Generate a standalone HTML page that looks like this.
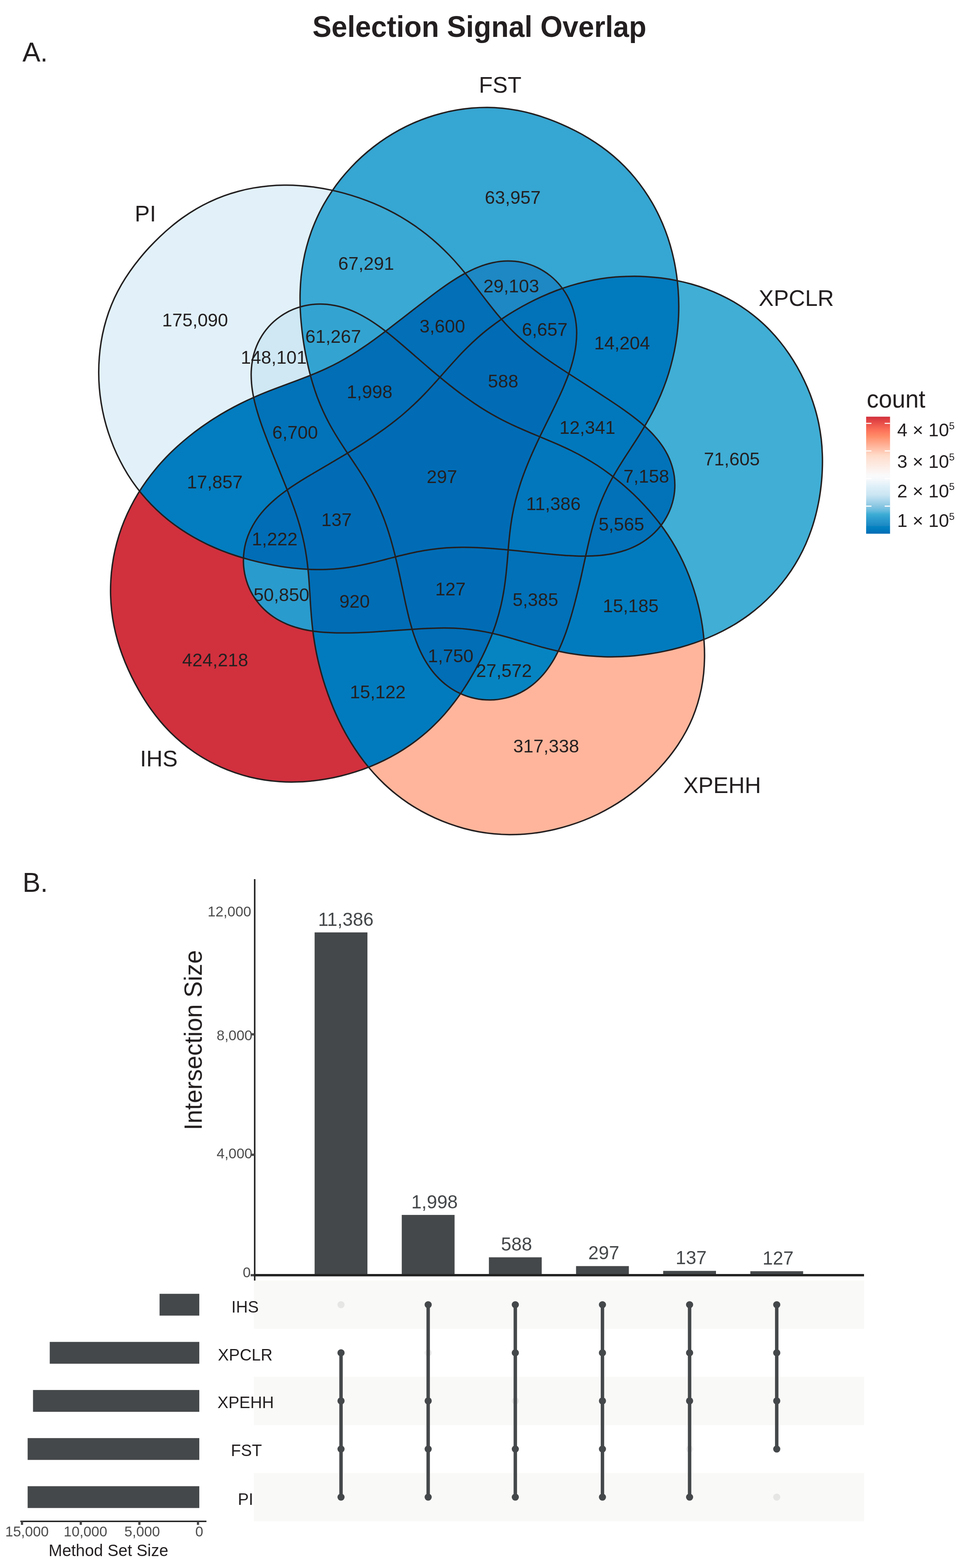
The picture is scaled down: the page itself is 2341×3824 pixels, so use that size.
<!DOCTYPE html>
<html lang="en"><head><meta charset="utf-8"><title>Selection Signal Overlap</title>
<style>html,body{margin:0;padding:0;background:#fff}body{width:2341px;height:3824px;overflow:hidden}svg{display:block;font-family:'Liberation Sans', sans-serif}text{white-space:pre}</style></head><body>
<svg width="2341" height="3824" viewBox="0 0 2341 3824" role="img" aria-label="Selection Signal Overlap: Venn diagram and UpSet plot">
<rect width="2341" height="3824" fill="#fff"/>
<text transform="translate(1169.10,89.60) scale(1,1.04)" font-size="69.45" fill="#231f20" text-anchor="middle" font-weight="bold">Selection Signal Overlap</text>
<text transform="translate(54.70,149.60) scale(1,1.03)" font-size="65.5" fill="#231f20">A.</text>
<text transform="translate(54.90,2174.90) scale(1,1.03)" font-size="65.5" fill="#231f20">B.</text>
<g id="venn">
<path d="M241.6,870.9 L240.5,889.5 L240.1,908.3 L240.5,927.0 L241.6,945.7 L243.5,964.3 L246.1,982.8 L249.4,1001.2 L253.5,1019.5 L258.3,1037.6 L263.8,1055.5 L269.9,1073.2 L276.8,1090.6 L284.3,1107.7 L292.5,1124.5 L301.4,1141.0 L310.9,1157.1 L321.1,1172.8 L332.0,1188.0 L340.4,1198.9 L347.6,1187.7 L358.2,1172.4 L369.4,1157.5 L381.1,1143.0 L393.3,1128.9 L406.0,1115.2 L419.2,1102.0 L432.8,1089.2 L446.8,1076.9 L461.1,1065.0 L475.8,1053.5 L490.9,1042.5 L506.2,1031.9 L521.8,1021.6 L537.6,1011.8 L553.8,1002.4 L570.1,993.4 L586.7,984.9 L603.5,976.8 L619.2,969.6 L616.4,954.3 L614.0,935.8 L613.1,917.2 L613.7,898.6 L616.0,880.1 L620.1,862.0 L626.1,844.4 L634.1,827.6 L644.0,811.8 L655.5,797.2 L668.7,784.1 L683.3,772.6 L699.1,762.7 L715.9,754.8 L732.6,748.9 L732.3,730.5 L732.5,711.8 L733.4,693.2 L734.9,674.7 L737.2,656.2 L740.2,637.8 L743.9,619.5 L748.3,601.5 L753.5,583.6 L759.4,565.9 L766.1,548.5 L773.5,531.4 L781.6,514.6 L790.4,498.2 L799.8,482.2 L811.7,464.0 L804.2,462.3 L785.8,458.8 L767.3,455.9 L748.7,453.7 L730.1,452.1 L711.4,451.2 L692.7,451.0 L674.0,451.5 L655.3,452.9 L636.7,454.9 L618.2,457.8 L599.9,461.4 L581.7,465.9 L563.7,471.1 L546.0,477.1 L528.5,483.9 L511.4,491.5 L494.7,499.9 L478.3,509.0 L462.4,518.8 L446.9,529.3 L431.8,540.4 L417.2,552.1 L403.0,564.3 L389.2,577.0 L375.9,590.1 L363.0,603.6 L350.5,617.6 L338.5,631.9 L327.0,646.7 L316.0,661.8 L305.6,677.4 L295.9,693.4 L286.9,709.8 L278.6,726.6 L271.1,743.7 L264.5,761.2 L258.6,779.0 L253.6,797.1 L249.4,815.3 L246.0,833.7 L243.4,852.2Z" fill="#e2f1f9"/>
<path d="M1077.3,275.6 L1059.3,280.6 L1041.5,286.4 L1024.0,292.9 L1006.8,300.1 L989.9,308.0 L973.3,316.6 L957.1,325.9 L941.3,335.8 L925.9,346.3 L910.9,357.5 L896.3,369.2 L882.3,381.5 L868.7,394.3 L855.7,407.7 L843.1,421.5 L831.1,435.8 L819.7,450.6 L809.7,464.8 L822.2,467.6 L840.2,472.2 L858.2,477.4 L875.9,483.2 L893.5,489.5 L910.9,496.4 L928.0,503.9 L944.8,511.9 L961.4,520.6 L977.6,529.7 L993.6,539.5 L1009.2,549.8 L1024.4,560.6 L1039.2,571.9 L1053.7,583.7 L1067.7,596.1 L1081.3,608.8 L1094.5,622.0 L1107.3,635.7 L1119.7,649.7 L1134.3,667.2 L1148.6,659.9 L1165.7,652.3 L1183.2,646.1 L1201.2,641.4 L1219.6,638.3 L1238.1,637.2 L1256.7,638.0 L1275.1,641.0 L1293.0,646.0 L1310.1,653.1 L1326.4,662.2 L1341.5,673.0 L1355.3,685.4 L1367.7,699.3 L1371.0,704.1 L1391.2,697.5 L1409.1,692.3 L1427.2,687.8 L1445.5,683.9 L1463.9,680.7 L1482.3,678.1 L1500.9,676.2 L1519.5,675.0 L1538.2,674.5 L1556.8,674.6 L1575.5,675.3 L1594.1,676.7 L1612.7,678.7 L1631.1,681.3 L1652.2,685.3 L1650.4,670.2 L1647.5,651.8 L1643.9,633.5 L1639.7,615.3 L1634.8,597.2 L1629.2,579.4 L1622.9,561.8 L1615.9,544.5 L1608.3,527.5 L1599.9,510.8 L1590.9,494.4 L1581.2,478.4 L1570.9,462.9 L1560.0,447.8 L1548.4,433.1 L1536.1,419.0 L1523.3,405.4 L1509.9,392.4 L1496.0,380.0 L1481.5,368.2 L1466.6,357.0 L1451.2,346.4 L1435.4,336.4 L1419.3,327.0 L1402.8,318.2 L1386.1,310.0 L1369.1,302.2 L1351.8,295.1 L1334.3,288.5 L1316.7,282.5 L1298.7,277.2 L1280.7,272.6 L1262.4,268.7 L1244.0,265.6 L1225.4,263.4 L1206.8,262.0 L1188.1,261.4 L1169.5,261.8 L1150.8,262.9 L1132.2,264.9 L1113.8,267.7 L1095.5,271.3Z" fill="#36a6d2"/>
<path d="M1135.4,666.7 L1120.6,648.9 L1108.2,634.9 L1095.4,621.2 L1082.1,608.0 L1068.5,595.2 L1054.4,582.8 L1040.0,571.0 L1025.1,559.6 L1009.8,548.8 L994.2,538.5 L978.3,528.7 L962.0,519.5 L945.4,510.9 L928.5,502.8 L911.3,495.3 L893.9,488.4 L876.3,482.1 L858.5,476.3 L840.6,471.1 L822.4,466.4 L810.5,463.7 L798.8,481.5 L789.3,497.6 L780.5,514.1 L772.4,530.9 L765.0,548.1 L758.3,565.5 L752.4,583.2 L747.2,601.1 L742.7,619.3 L739.0,637.6 L736.0,656.0 L733.7,674.5 L732.2,693.2 L731.3,711.8 L731.1,730.5 L731.4,749.4 L733.4,748.7 L751.6,744.5 L770.1,742.4 L788.7,742.3 L807.2,744.0 L825.4,747.6 L843.3,752.8 L860.7,759.5 L877.5,767.4 L893.8,776.5 L909.6,786.4 L925.0,797.0 L940.2,808.5 L966.0,788.7 L1039.8,731.6 L1069.7,709.2 L1084.9,698.3 L1100.3,687.8 L1116.0,677.8 L1132.1,668.4Z" fill="#3aa9d4"/>
<path d="M1944.3,894.4 L1934.7,878.3 L1924.5,862.6 L1913.7,847.4 L1902.2,832.6 L1890.1,818.3 L1877.4,804.6 L1864.1,791.4 L1850.2,778.9 L1835.7,767.0 L1820.7,755.9 L1805.3,745.4 L1789.3,735.6 L1772.9,726.6 L1756.2,718.2 L1739.1,710.7 L1721.7,703.8 L1704.0,697.6 L1686.1,692.2 L1668.0,687.5 L1650.8,683.7 L1651.5,688.9 L1653.1,707.4 L1654.2,726.0 L1654.6,744.7 L1654.4,763.3 L1653.6,781.9 L1652.1,800.5 L1650.0,819.0 L1647.3,837.4 L1643.9,855.7 L1639.9,873.9 L1635.3,892.0 L1630.0,909.9 L1624.2,927.6 L1617.8,945.0 L1610.8,962.3 L1603.3,979.3 L1595.2,996.1 L1586.6,1012.7 L1577.5,1029.0 L1571.3,1039.6 L1582.3,1049.7 L1595.2,1063.2 L1607.1,1077.5 L1617.8,1092.8 L1627.0,1109.0 L1634.5,1126.0 L1640.2,1143.7 L1643.7,1162.0 L1645.1,1180.6 L1644.3,1199.2 L1641.3,1217.5 L1636.1,1235.4 L1629.0,1252.6 L1619.9,1268.8 L1611.2,1281.0 L1617.7,1289.7 L1628.2,1305.1 L1638.3,1320.8 L1647.7,1336.9 L1656.5,1353.4 L1664.8,1370.1 L1672.4,1387.1 L1679.5,1404.4 L1686.0,1421.9 L1691.9,1439.6 L1697.2,1457.4 L1701.9,1475.5 L1706.1,1493.7 L1709.7,1512.0 L1712.6,1530.4 L1714.9,1548.9 L1715.8,1560.3 L1729.0,1555.0 L1746.1,1547.4 L1762.9,1539.2 L1779.3,1530.4 L1795.5,1520.9 L1811.2,1510.7 L1826.5,1500.0 L1841.3,1488.5 L1855.6,1476.5 L1869.3,1463.8 L1882.5,1450.5 L1895.2,1436.7 L1907.2,1422.4 L1918.6,1407.6 L1929.4,1392.3 L1939.5,1376.5 L1948.9,1360.4 L1957.5,1343.8 L1965.5,1326.8 L1972.6,1309.6 L1979.1,1292.0 L1984.8,1274.2 L1989.8,1256.2 L1994.1,1238.0 L1997.7,1219.6 L2000.7,1201.2 L2003.1,1182.6 L2004.8,1164.0 L2005.8,1145.3 L2006.2,1126.6 L2005.9,1107.9 L2004.9,1089.2 L2003.2,1070.6 L2000.6,1052.1 L1997.3,1033.7 L1993.2,1015.4 L1988.3,997.3 L1982.7,979.5 L1976.3,961.9 L1969.3,944.6 L1961.6,927.5 L1953.3,910.8Z" fill="#40aed5"/>
<path d="M1630.0,1253.1 L1637.3,1235.8 L1642.4,1217.8 L1645.5,1199.3 L1646.3,1180.6 L1644.9,1161.9 L1641.3,1143.4 L1635.7,1125.6 L1628.1,1108.4 L1618.8,1092.1 L1608.1,1076.8 L1596.1,1062.4 L1583.1,1048.9 L1571.9,1038.5 L1558.3,1060.9 L1517.9,1123.6 L1508.0,1139.4 L1498.4,1155.4 L1494.3,1162.8 L1502.0,1168.7 L1516.4,1180.6 L1530.5,1192.9 L1544.1,1205.6 L1557.5,1218.6 L1570.4,1232.1 L1582.9,1245.9 L1595.0,1260.1 L1606.6,1274.7 L1611.9,1282.0 L1620.9,1269.5Z" fill="#0273b9"/>
<path d="M1596.2,996.7 L1604.3,979.9 L1611.9,962.8 L1618.9,945.5 L1625.3,927.9 L1631.2,910.2 L1636.4,892.3 L1641.1,874.2 L1645.1,856.0 L1648.5,837.6 L1651.2,819.1 L1653.3,800.6 L1654.8,782.0 L1655.6,763.3 L1655.8,744.7 L1655.4,726.0 L1654.3,707.3 L1652.7,688.7 L1652.1,684.0 L1631.3,680.2 L1612.8,677.5 L1594.2,675.5 L1575.6,674.1 L1556.9,673.4 L1538.2,673.3 L1519.5,673.8 L1500.8,675.1 L1482.2,676.9 L1463.7,679.5 L1445.2,682.7 L1427.0,686.6 L1408.8,691.1 L1390.8,696.3 L1370.3,703.1 L1378.4,714.5 L1387.4,730.8 L1394.7,747.9 L1400.1,765.7 L1403.6,784.0 L1405.4,802.5 L1405.5,821.1 L1404.0,839.7 L1401.2,858.1 L1397.2,876.3 L1392.1,894.2 L1386.3,911.6 L1462.5,960.8 L1493.7,981.4 L1509.1,991.9 L1524.4,1002.6 L1539.5,1013.6 L1554.3,1025.0 L1568.6,1037.0 L1572.2,1040.4 L1578.6,1029.5 L1587.6,1013.2Z" fill="#027abe"/>
<path d="M1509.0,1140.0 L1518.9,1124.2 L1559.3,1061.5 L1572.8,1039.3 L1569.4,1036.1 L1555.0,1024.1 L1540.2,1012.6 L1525.1,1001.6 L1509.8,990.9 L1494.3,980.4 L1463.1,959.8 L1386.7,910.5 L1379.6,929.3 L1372.4,946.5 L1364.8,963.6 L1348.8,997.3 L1315.6,1065.5 L1340.9,1076.0 L1358.0,1083.4 L1375.0,1091.1 L1391.9,1099.1 L1408.5,1107.5 L1424.9,1116.5 L1441.0,1125.9 L1456.8,1135.9 L1472.2,1146.3 L1487.3,1157.3 L1495.3,1163.5 L1499.4,1156.0Z" fill="#0278bc"/>
<path d="M1607.4,1874.8 L1619.9,1860.9 L1631.9,1846.5 L1643.2,1831.7 L1653.9,1816.4 L1664.0,1800.6 L1673.2,1784.3 L1681.7,1767.6 L1689.3,1750.6 L1696.0,1733.1 L1701.9,1715.4 L1706.9,1697.3 L1710.9,1679.1 L1714.1,1660.6 L1716.5,1642.1 L1718.0,1623.5 L1718.6,1604.8 L1718.5,1586.1 L1717.7,1567.4 L1716.9,1558.6 L1711.2,1560.9 L1693.7,1567.3 L1675.9,1573.2 L1658.0,1578.4 L1640.0,1583.1 L1621.8,1587.3 L1603.5,1591.0 L1585.1,1594.0 L1566.6,1596.6 L1548.0,1598.6 L1529.4,1600.1 L1510.8,1601.0 L1492.1,1601.3 L1473.5,1601.1 L1454.8,1600.3 L1436.2,1599.0 L1417.6,1597.0 L1399.1,1594.5 L1380.7,1591.3 L1360.8,1587.3 L1355.8,1597.4 L1346.6,1613.6 L1336.4,1629.1 L1324.9,1643.8 L1312.3,1657.3 L1298.3,1669.6 L1283.2,1680.4 L1267.0,1689.5 L1249.9,1696.8 L1232.1,1702.0 L1213.8,1705.3 L1195.3,1706.5 L1176.7,1705.6 L1158.3,1702.7 L1140.4,1697.9 L1122.8,1690.9 L1117.8,1698.1 L1106.8,1713.1 L1095.2,1727.7 L1083.1,1741.9 L1070.5,1755.7 L1057.4,1768.9 L1043.8,1781.6 L1029.6,1793.8 L1015.0,1805.3 L999.9,1816.3 L984.4,1826.7 L968.6,1836.4 L952.3,1845.6 L935.7,1854.1 L918.8,1862.0 L901.6,1869.2 L897.8,1870.7 L910.7,1885.8 L923.5,1899.4 L936.8,1912.5 L950.7,1925.1 L965.0,1937.1 L979.9,1948.4 L995.2,1959.2 L1011.0,1969.2 L1027.1,1978.6 L1043.7,1987.4 L1060.5,1995.4 L1077.7,2002.8 L1095.2,2009.5 L1112.9,2015.5 L1130.8,2020.7 L1149.0,2025.3 L1167.3,2029.1 L1185.7,2032.0 L1204.3,2034.2 L1223.0,2035.6 L1241.7,2036.1 L1260.4,2035.9 L1279.0,2034.8 L1297.6,2033.0 L1316.2,2030.5 L1334.6,2027.2 L1352.8,2023.3 L1371.0,2018.7 L1388.9,2013.5 L1406.7,2007.6 L1424.2,2001.1 L1441.4,1993.9 L1458.4,1986.0 L1475.1,1977.5 L1491.4,1968.3 L1507.3,1958.6 L1522.8,1948.2 L1538.0,1937.2 L1552.7,1925.7 L1567.1,1913.7 L1581.0,1901.2 L1594.4,1888.3Z" fill="#ffb59b"/>
<path d="M757.6,915.8 L752.8,896.6 L748.8,878.4 L745.2,860.1 L742.0,841.8 L739.2,823.3 L736.9,804.8 L735.0,786.3 L733.5,767.7 L732.6,747.7 L715.4,753.6 L698.5,761.7 L682.6,771.6 L667.9,783.2 L654.6,796.4 L643.0,811.1 L633.1,827.0 L625.0,843.9 L618.9,861.6 L614.8,879.9 L612.5,898.5 L611.9,917.2 L612.9,935.9 L615.2,954.4 L618.1,970.1 L637.6,961.7 L654.9,954.7 L672.3,947.9 L742.3,921.8Z" fill="#cfe8f4"/>
<path d="M1140.1,1699.0 L1158.1,1703.9 L1176.6,1706.8 L1195.3,1707.7 L1213.9,1706.5 L1232.3,1703.2 L1250.3,1697.9 L1267.5,1690.6 L1283.8,1681.5 L1299.1,1670.6 L1313.1,1658.2 L1325.9,1644.5 L1337.4,1629.8 L1347.7,1614.2 L1356.9,1597.9 L1362.0,1587.5 L1344.3,1583.5 L1326.2,1578.9 L1308.2,1573.9 L1236.4,1553.0 L1218.3,1548.2 L1200.4,1543.9 L1197.8,1550.9 L1190.7,1568.1 L1183.1,1585.2 L1175.0,1602.0 L1166.5,1618.6 L1157.6,1635.0 L1148.3,1651.2 L1138.6,1667.1 L1128.5,1682.7 L1122.1,1691.9Z" fill="#0684c2"/>
<path d="M925.7,796.0 L910.3,785.4 L894.5,775.4 L878.1,766.4 L861.2,758.4 L843.7,751.7 L825.7,746.4 L807.4,742.8 L788.7,741.1 L770.0,741.2 L751.4,743.4 L733.1,747.5 L731.4,748.1 L732.4,767.8 L733.8,786.4 L735.7,805.0 L738.0,823.5 L740.8,841.9 L744.0,860.3 L747.6,878.7 L751.6,896.9 L756.5,916.2 L776.9,907.8 L794.0,900.2 L810.8,892.1 L827.4,883.5 L843.7,874.4 L859.8,864.8 L875.5,854.8 L891.0,844.3 L906.3,833.6 L921.4,822.6 L941.2,807.7Z" fill="#33a4d1"/>
<path d="M1380.5,1592.5 L1399.0,1595.7 L1417.5,1598.2 L1436.1,1600.2 L1454.7,1601.5 L1473.4,1602.3 L1492.1,1602.5 L1510.8,1602.2 L1529.5,1601.2 L1548.1,1599.8 L1566.7,1597.8 L1585.3,1595.2 L1603.7,1592.1 L1622.0,1588.5 L1640.3,1584.3 L1658.4,1579.6 L1676.3,1574.3 L1694.1,1568.5 L1711.6,1562.0 L1717.0,1559.9 L1716.1,1548.8 L1713.8,1530.2 L1710.9,1511.8 L1707.3,1493.4 L1703.1,1475.2 L1698.3,1457.1 L1693.0,1439.2 L1687.1,1421.5 L1680.6,1403.9 L1673.5,1386.6 L1665.9,1369.6 L1657.6,1352.8 L1648.7,1336.3 L1639.3,1320.2 L1629.3,1304.4 L1618.7,1289.0 L1611.9,1279.9 L1609.0,1284.0 L1596.6,1297.8 L1582.7,1310.2 L1567.5,1321.0 L1551.4,1330.3 L1534.4,1337.9 L1516.8,1344.0 L1498.7,1348.7 L1480.4,1352.0 L1461.8,1354.2 L1443.2,1355.4 L1427.6,1355.6 L1417.4,1402.4 L1409.0,1438.7 L1399.8,1474.9 L1394.9,1492.9 L1389.7,1510.8 L1384.1,1528.6 L1378.0,1546.2 L1371.4,1563.6 L1364.0,1580.7 L1360.2,1588.4Z" fill="#027bbe"/>
<path d="M1461.9,1355.4 L1480.5,1353.2 L1499.0,1349.8 L1517.1,1345.2 L1534.8,1339.0 L1551.9,1331.3 L1568.2,1322.0 L1583.4,1311.1 L1597.4,1298.6 L1610.0,1284.7 L1612.7,1280.9 L1607.5,1274.0 L1595.9,1259.4 L1583.8,1245.1 L1571.3,1231.3 L1558.3,1217.8 L1545.0,1204.7 L1531.3,1192.0 L1517.2,1179.7 L1502.8,1167.8 L1494.9,1161.7 L1489.3,1171.7 L1480.7,1188.3 L1472.7,1205.2 L1465.4,1222.3 L1458.7,1239.8 L1452.6,1257.4 L1447.2,1275.3 L1442.2,1293.3 L1437.7,1311.4 L1433.4,1329.6 L1427.3,1356.8 L1443.3,1356.6Z" fill="#0271b8"/>
<path d="M1218.0,1549.4 L1236.1,1554.2 L1307.8,1575.0 L1325.9,1580.0 L1344.0,1584.6 L1361.4,1588.6 L1365.1,1581.2 L1372.5,1564.0 L1379.1,1546.6 L1385.2,1528.9 L1390.8,1511.1 L1396.1,1493.2 L1401.0,1475.2 L1410.1,1439.0 L1418.5,1402.7 L1428.8,1355.6 L1424.5,1355.7 L1405.9,1355.4 L1387.2,1354.5 L1368.6,1353.3 L1331.4,1349.9 L1238.7,1340.3 L1234.7,1387.8 L1232.8,1406.3 L1230.4,1424.8 L1227.6,1443.3 L1224.2,1461.6 L1220.2,1479.8 L1215.6,1497.9 L1210.2,1515.7 L1204.3,1533.4 L1199.9,1545.0Z" fill="#0271b8"/>
<path d="M1238.6,1341.5 L1331.2,1351.1 L1368.5,1354.4 L1387.1,1355.7 L1405.8,1356.6 L1428.6,1356.8 L1434.6,1329.8 L1438.8,1311.7 L1443.4,1293.6 L1448.3,1275.6 L1453.8,1257.8 L1459.8,1240.2 L1466.5,1222.8 L1473.8,1205.7 L1481.8,1188.8 L1490.3,1172.3 L1495.9,1162.4 L1488.0,1156.4 L1472.9,1145.4 L1457.4,1134.9 L1441.6,1124.9 L1425.5,1115.4 L1409.1,1106.5 L1392.4,1098.0 L1375.5,1090.0 L1358.5,1082.3 L1341.3,1074.9 L1316.1,1064.4 L1300.4,1098.3 L1292.8,1115.4 L1285.6,1132.6 L1278.8,1150.0 L1272.4,1167.6 L1266.5,1185.3 L1261.1,1203.2 L1256.3,1221.2 L1252.2,1239.5 L1248.6,1257.8 L1245.6,1276.3 L1243.2,1294.8 L1241.2,1313.4Z" fill="#0277bc"/>
<path d="M538.2,1871.2 L555.4,1878.4 L573.0,1884.9 L590.8,1890.6 L608.8,1895.5 L627.0,1899.6 L645.4,1902.9 L664.0,1905.3 L682.6,1906.9 L701.3,1907.7 L720.0,1907.7 L738.7,1907.0 L757.3,1905.6 L775.9,1903.5 L794.3,1900.7 L812.7,1897.2 L831.0,1893.1 L849.0,1888.4 L866.9,1883.0 L884.6,1877.0 L899.7,1871.3 L887.8,1856.3 L876.6,1841.3 L866.1,1826.0 L856.1,1810.2 L846.5,1794.2 L837.6,1777.8 L829.1,1761.2 L821.2,1744.3 L813.7,1727.2 L806.7,1709.9 L800.2,1692.4 L794.1,1674.8 L788.5,1657.0 L783.3,1639.1 L778.6,1621.0 L774.4,1602.9 L770.7,1584.6 L767.5,1566.2 L764.7,1547.7 L763.6,1538.5 L753.4,1537.0 L735.1,1533.1 L717.2,1528.1 L699.8,1521.6 L683.0,1513.5 L667.0,1503.9 L652.2,1492.6 L638.7,1479.8 L626.7,1465.6 L616.5,1450.1 L608.0,1433.5 L601.5,1416.0 L597.1,1398.0 L594.6,1379.5 L594.3,1360.4 L574.8,1354.4 L557.1,1348.4 L539.6,1341.8 L522.4,1334.6 L505.4,1326.8 L488.7,1318.5 L472.3,1309.5 L456.3,1300.0 L440.6,1289.8 L425.4,1279.0 L410.6,1267.6 L396.3,1255.7 L382.5,1243.1 L369.2,1230.0 L356.5,1216.3 L344.4,1202.1 L340.3,1196.8 L336.5,1202.8 L327.1,1218.9 L318.2,1235.4 L310.1,1252.2 L302.6,1269.4 L295.9,1286.8 L289.9,1304.5 L284.6,1322.4 L280.1,1340.6 L276.4,1358.9 L273.4,1377.3 L271.2,1395.9 L269.7,1414.5 L269.0,1433.2 L269.1,1451.9 L270.0,1470.6 L271.6,1489.2 L274.1,1507.7 L277.4,1526.1 L281.4,1544.4 L286.2,1562.5 L291.6,1580.3 L297.8,1598.0 L304.6,1615.4 L312.0,1632.6 L319.9,1649.5 L328.4,1666.2 L337.3,1682.5 L346.8,1698.6 L356.9,1714.4 L367.5,1729.8 L378.6,1744.8 L390.3,1759.4 L402.7,1773.4 L415.6,1786.9 L429.1,1799.8 L443.2,1812.1 L457.9,1823.7 L473.1,1834.6 L488.7,1844.8 L504.8,1854.3 L521.3,1863.1Z" fill="#d1303d"/>
<path d="M381.6,1244.0 L395.5,1256.6 L409.8,1268.6 L424.7,1280.0 L440.0,1290.8 L455.6,1301.0 L471.7,1310.6 L488.1,1319.6 L504.9,1327.9 L521.9,1335.7 L539.2,1342.9 L556.7,1349.5 L574.4,1355.6 L594.2,1361.7 L596.0,1342.4 L599.8,1324.2 L605.5,1306.5 L613.0,1289.4 L622.2,1273.2 L632.8,1258.0 L644.7,1243.6 L657.7,1230.2 L671.5,1217.7 L686.0,1206.0 L701.0,1194.9 L661.2,1096.3 L647.7,1061.5 L641.2,1044.0 L635.0,1026.4 L629.3,1008.6 L624.2,990.7 L619.8,972.6 L619.0,968.4 L603.0,975.7 L586.2,983.8 L569.5,992.4 L553.2,1001.4 L537.0,1010.8 L521.1,1020.6 L505.5,1030.9 L490.2,1041.5 L475.1,1052.6 L460.4,1064.1 L446.0,1076.0 L432.0,1088.3 L418.3,1101.1 L405.2,1114.4 L392.4,1128.1 L380.2,1142.2 L368.4,1156.7 L357.2,1171.7 L346.6,1187.0 L339.7,1197.9 L343.5,1202.8 L355.6,1217.1 L368.3,1230.8Z" fill="#037dbf"/>
<path d="M1356.2,684.6 L1342.3,672.0 L1327.0,661.2 L1310.7,652.1 L1293.4,644.9 L1275.3,639.8 L1256.8,636.8 L1238.1,636.0 L1219.5,637.1 L1201.0,640.2 L1182.9,645.0 L1165.2,651.2 L1148.1,658.8 L1133.6,666.3 L1143.4,678.5 L1154.9,693.2 L1188.9,737.8 L1200.5,752.5 L1212.3,767.0 L1222.8,779.2 L1239.4,768.2 L1255.3,758.5 L1271.4,749.1 L1287.9,740.3 L1304.5,731.9 L1321.4,723.9 L1338.6,716.5 L1355.9,709.6 L1372.2,703.7 L1368.6,698.6Z" fill="#1d88c4"/>
<path d="M1201.4,751.8 L1189.9,737.1 L1155.8,692.5 L1144.3,677.7 L1134.7,665.7 L1131.5,667.3 L1115.3,676.7 L1099.6,686.8 L1084.2,697.3 L1069.0,708.2 L1039.1,730.6 L965.3,787.8 L939.2,807.7 L954.5,819.8 L968.9,831.7 L983.1,843.8 L1039.5,892.7 L1072.8,920.8 L1099.4,890.8 L1112.0,877.0 L1124.8,863.3 L1137.8,850.0 L1151.2,837.0 L1164.9,824.4 L1179.1,812.2 L1193.6,800.5 L1208.5,789.3 L1223.8,778.5 L1213.2,766.2Z" fill="#026fb7"/>
<path d="M595.9,1398.2 L600.4,1416.4 L606.9,1434.0 L615.4,1450.7 L625.8,1466.3 L637.8,1480.7 L651.4,1493.5 L666.4,1504.9 L682.4,1514.6 L699.3,1522.7 L716.8,1529.2 L734.8,1534.3 L753.2,1538.1 L763.7,1539.7 L762.4,1529.2 L760.5,1510.6 L759.0,1492.0 L754.2,1417.5 L752.7,1398.9 L751.6,1387.8 L739.2,1387.1 L720.6,1385.5 L702.1,1383.3 L683.6,1380.6 L665.2,1377.4 L646.9,1373.7 L628.7,1369.6 L610.6,1365.0 L593.2,1360.1 L593.4,1379.6Z" fill="#2a9bcd"/>
<path d="M665.0,1378.5 L683.4,1381.7 L701.9,1384.5 L720.5,1386.7 L739.2,1388.3 L751.7,1389.0 L750.8,1380.3 L748.5,1361.7 L745.6,1343.3 L742.2,1324.9 L738.1,1306.7 L733.4,1288.6 L728.2,1270.6 L722.4,1252.8 L716.3,1235.2 L709.8,1217.7 L700.6,1193.8 L685.3,1205.0 L670.7,1216.8 L656.9,1229.4 L643.8,1242.8 L631.9,1257.2 L621.2,1272.6 L611.9,1288.9 L604.4,1306.0 L598.6,1323.9 L594.8,1342.2 L593.1,1361.3 L610.3,1366.2 L628.4,1370.8 L646.6,1374.9Z" fill="#016db6"/>
<path d="M1398.3,876.5 L1402.4,858.3 L1405.2,839.8 L1406.7,821.1 L1406.6,802.4 L1404.8,783.8 L1401.2,765.4 L1395.8,747.5 L1388.5,730.2 L1379.4,713.9 L1371.5,702.7 L1355.5,708.5 L1338.1,715.4 L1321.0,722.9 L1304.0,730.8 L1287.3,739.2 L1270.9,748.1 L1254.7,757.4 L1238.7,767.2 L1222.0,778.3 L1237.1,795.0 L1250.2,808.4 L1263.7,821.3 L1277.7,833.8 L1292.1,845.7 L1306.9,857.2 L1321.9,868.3 L1337.2,879.1 L1352.7,889.6 L1387.3,912.3 L1393.3,894.5Z" fill="#0272b9"/>
<path d="M1316.7,1065.9 L1349.9,997.8 L1365.9,964.0 L1373.5,947.0 L1380.7,929.7 L1387.7,911.1 L1353.4,888.6 L1337.9,878.1 L1322.6,867.3 L1307.6,856.2 L1292.9,844.8 L1278.5,832.9 L1264.5,820.4 L1251.0,807.6 L1238.0,794.2 L1223.0,777.6 L1207.8,788.3 L1192.9,799.5 L1178.3,811.3 L1164.2,823.5 L1150.4,836.1 L1137.0,849.1 L1123.9,862.5 L1111.1,876.2 L1098.6,890.0 L1071.9,920.0 L1097.0,940.4 L1111.8,951.9 L1126.7,963.2 L1141.8,974.1 L1157.2,984.7 L1172.8,995.0 L1188.7,1004.8 L1204.9,1014.2 L1221.4,1023.0 L1238.1,1031.5 L1254.9,1039.5 L1272.0,1047.1 L1289.2,1054.5Z" fill="#016cb5"/>
<path d="M763.5,1547.9 L766.3,1566.4 L769.5,1584.8 L773.2,1603.1 L777.4,1621.3 L782.2,1639.4 L787.3,1657.4 L793.0,1675.2 L799.0,1692.9 L805.6,1710.4 L812.6,1727.7 L820.1,1744.8 L828.0,1761.7 L836.5,1778.4 L845.5,1794.8 L855.0,1810.9 L865.1,1826.6 L875.7,1842.0 L886.8,1857.0 L898.6,1871.7 L919.3,1863.1 L936.2,1855.2 L952.9,1846.6 L969.2,1837.5 L985.1,1827.7 L1000.6,1817.3 L1015.7,1806.3 L1030.4,1794.7 L1044.6,1782.5 L1058.2,1769.8 L1071.4,1756.5 L1084.0,1742.7 L1096.1,1728.5 L1107.7,1713.8 L1118.8,1698.8 L1123.9,1691.4 L1106.7,1682.5 L1091.2,1672.1 L1076.9,1660.3 L1063.8,1647.1 L1052.0,1632.7 L1041.5,1617.4 L1032.2,1601.3 L1024.0,1584.6 L1016.8,1567.4 L1010.4,1549.9 L1005.5,1534.1 L939.6,1538.7 L902.3,1541.0 L865.0,1542.6 L846.4,1542.9 L827.7,1543.0 L809.0,1542.5 L790.4,1541.5 L771.8,1539.7 L762.3,1538.3Z" fill="#027bbe"/>
<path d="M848.2,1105.2 L833.9,1083.6 L823.9,1067.8 L814.3,1051.9 L805.1,1035.7 L796.4,1019.2 L788.3,1002.4 L780.9,985.3 L774.1,968.0 L767.9,950.4 L762.3,932.6 L757.3,914.6 L741.8,920.7 L671.9,946.8 L654.4,953.5 L637.1,960.6 L617.9,968.9 L618.6,972.8 L623.0,991.0 L628.2,1009.0 L633.9,1026.8 L640.1,1044.4 L646.6,1061.9 L660.1,1096.7 L700.0,1195.7 L716.4,1184.4 L732.1,1174.3 L748.1,1164.5 L828.5,1117.1Z" fill="#0273b9"/>
<path d="M1009.3,1550.3 L1015.6,1567.9 L1022.9,1585.1 L1031.1,1601.9 L1040.5,1618.0 L1051.1,1633.5 L1062.9,1647.9 L1076.1,1661.2 L1090.5,1673.1 L1106.1,1683.5 L1123.2,1692.4 L1129.4,1683.4 L1139.6,1667.7 L1149.4,1651.8 L1158.7,1635.6 L1167.6,1619.2 L1176.1,1602.5 L1184.2,1585.7 L1191.8,1568.6 L1198.9,1551.3 L1201.5,1544.2 L1181.8,1540.0 L1163.4,1536.9 L1144.9,1534.4 L1126.3,1532.6 L1107.6,1531.5 L1088.9,1531.0 L1070.2,1531.1 L1051.5,1531.6 L1032.8,1532.4 L1004.2,1534.2Z" fill="#016eb6"/>
<path d="M1073.6,919.9 L1040.3,891.8 L983.9,842.9 L969.7,830.8 L955.3,818.9 L940.2,807.0 L920.7,821.6 L905.6,832.6 L890.3,843.3 L874.9,853.8 L859.1,863.8 L843.1,873.4 L826.8,882.5 L810.3,891.0 L793.4,899.1 L776.4,906.7 L756.2,915.0 L761.2,933.0 L766.8,950.8 L773.0,968.4 L779.8,985.8 L787.2,1002.9 L795.3,1019.7 L804.0,1036.2 L813.2,1052.5 L822.9,1068.5 L832.9,1084.2 L847.2,1105.8 L876.3,1087.8 L892.0,1077.7 L907.6,1067.4 L923.0,1056.8 L938.3,1046.0 L953.3,1034.8 L968.0,1023.3 L982.5,1011.4 L996.6,999.2 L1010.4,986.5 L1023.8,973.5 L1036.8,960.1 L1049.6,946.5 L1062.2,932.7Z" fill="#016eb6"/>
<path d="M753.0,1417.6 L757.8,1492.1 L759.4,1510.8 L761.2,1529.3 L762.5,1539.5 L771.7,1540.9 L790.3,1542.7 L809.0,1543.7 L827.7,1544.2 L846.4,1544.1 L865.1,1543.7 L902.4,1542.2 L939.7,1539.9 L1005.8,1535.3 L999.8,1514.2 L995.3,1496.1 L991.1,1478.0 L971.6,1386.8 L964.7,1357.4 L924.1,1367.8 L905.9,1372.2 L887.7,1376.3 L869.4,1379.9 L851.0,1383.0 L832.4,1385.4 L813.9,1387.2 L795.2,1388.2 L776.6,1388.5 L757.9,1388.1 L750.4,1387.7 L751.5,1399.0Z" fill="#016db5"/>
<path d="M795.3,1389.4 L813.9,1388.4 L832.6,1386.6 L851.1,1384.2 L869.6,1381.1 L887.9,1377.5 L906.2,1373.4 L924.4,1368.9 L965.0,1358.6 L958.3,1332.4 L953.3,1314.4 L947.8,1296.6 L941.9,1278.9 L935.5,1261.4 L928.5,1244.0 L920.9,1227.0 L912.8,1210.2 L904.1,1193.6 L894.9,1177.4 L885.2,1161.5 L875.2,1145.7 L847.5,1104.2 L827.9,1116.1 L747.4,1163.5 L731.5,1173.3 L715.8,1183.4 L699.6,1194.5 L708.7,1218.1 L715.2,1235.6 L721.3,1253.2 L727.0,1271.0 L732.2,1288.9 L736.9,1306.9 L741.0,1325.1 L744.5,1343.5 L747.3,1361.9 L749.6,1380.4 L750.5,1388.9 L757.8,1389.3 L776.5,1389.7Z" fill="#016cb5"/>
<path d="M966.2,1368.9 L974.4,1405.3 L989.9,1478.2 L994.1,1496.4 L998.7,1514.5 L1004.6,1535.4 L1032.9,1533.6 L1051.6,1532.8 L1070.2,1532.3 L1088.9,1532.2 L1107.5,1532.7 L1126.2,1533.8 L1144.7,1535.6 L1163.2,1538.0 L1181.6,1541.2 L1201.1,1545.3 L1205.4,1533.8 L1211.4,1516.1 L1216.7,1498.2 L1221.4,1480.1 L1225.4,1461.8 L1228.8,1443.5 L1231.6,1425.0 L1233.9,1406.4 L1235.9,1387.9 L1239.9,1340.5 L1201.1,1337.1 L1182.5,1335.8 L1163.8,1334.8 L1145.1,1334.2 L1126.4,1334.1 L1107.7,1334.5 L1089.0,1335.4 L1070.4,1337.1 L1051.8,1339.3 L1033.3,1342.2 L1014.9,1345.7 L996.6,1349.6 L963.5,1357.7Z" fill="#016cb5"/>
<path d="M1033.5,1343.4 L1051.9,1340.5 L1070.5,1338.2 L1089.1,1336.6 L1107.7,1335.6 L1126.4,1335.3 L1145.1,1335.4 L1163.7,1336.0 L1182.4,1337.0 L1201.0,1338.2 L1239.8,1341.7 L1242.4,1313.5 L1244.4,1294.9 L1246.8,1276.4 L1249.8,1258.0 L1253.3,1239.7 L1257.5,1221.5 L1262.3,1203.5 L1267.6,1185.7 L1273.5,1168.0 L1279.9,1150.4 L1286.8,1133.1 L1294.0,1115.9 L1301.5,1098.8 L1317.2,1064.8 L1272.5,1046.0 L1255.4,1038.4 L1238.6,1030.4 L1221.9,1022.0 L1205.5,1013.1 L1189.4,1003.8 L1173.5,994.0 L1157.9,983.8 L1142.5,973.2 L1127.4,962.2 L1112.5,951.0 L1097.8,939.5 L1072.7,919.1 L1048.8,945.7 L1036.0,959.3 L1022.9,972.7 L1009.5,985.7 L995.8,998.3 L981.7,1010.5 L967.3,1022.4 L952.6,1033.9 L937.6,1045.0 L922.4,1055.8 L906.9,1066.4 L891.4,1076.7 L875.7,1086.8 L846.5,1104.8 L874.2,1146.4 L884.2,1162.1 L893.8,1178.0 L903.0,1194.2 L911.7,1210.7 L919.8,1227.5 L927.4,1244.5 L934.3,1261.8 L940.8,1279.3 L946.7,1297.0 L952.1,1314.8 L957.2,1332.7 L963.8,1358.8 L996.9,1350.8 L1015.1,1346.8Z" fill="#016cb5"/>
<path d="M254.2,797.2C257.3,785.2 260.9,773.2 265.0,761.4C269.2,749.7 273.9,738.1 279.1,726.8C284.4,715.5 290.2,704.5 296.4,693.7C302.6,682.9 309.4,672.4 316.5,662.2C323.6,651.9 331.1,642.0 339.0,632.3C346.8,622.6 355.0,613.2 363.4,604.0C371.9,594.9 380.6,586.0 389.6,577.4C398.7,568.8 408.0,560.5 417.6,552.5C427.2,544.6 437.0,536.9 447.2,529.8C457.4,522.6 467.9,515.8 478.6,509.5C489.4,503.2 500.4,497.4 511.7,492.1C522.9,486.8 534.5,482.0 546.2,477.7C557.9,473.4 569.8,469.7 581.8,466.5C593.8,463.2 606.1,460.5 618.3,458.4C630.6,456.2 643.0,454.6 655.4,453.4C667.8,452.3 680.2,451.7 692.7,451.6C705.1,451.4 717.6,451.8 730.0,452.7C742.5,453.5 754.9,454.8 767.2,456.5C779.6,458.2 791.9,460.4 804.1,462.9C816.3,465.4 828.4,468.4 840.4,471.6C852.4,474.9 864.3,478.6 876.1,482.6C887.9,486.7 899.6,491.1 911.1,495.9C922.6,500.7 933.9,505.9 945.1,511.4C956.2,517.0 967.2,522.9 978.0,529.2C988.7,535.5 999.2,542.2 1009.5,549.3C1019.8,556.3 1029.8,563.7 1039.6,571.4C1049.4,579.2 1058.9,587.2 1068.1,595.6C1077.3,604.0 1086.3,612.7 1094.9,621.6C1103.6,630.6 1112.0,639.8 1120.1,649.3C1128.3,658.7 1136.1,668.4 1143.9,678.1C1151.6,687.9 1159.1,697.8 1166.7,707.7C1174.3,717.6 1181.7,727.6 1189.4,737.4C1197.1,747.2 1204.7,757.1 1212.8,766.6C1220.8,776.1 1229.0,785.6 1237.5,794.6C1246.1,803.6 1255.0,812.5 1264.1,820.9C1273.3,829.3 1282.8,837.4 1292.5,845.2C1302.2,853.1 1312.2,860.5 1322.3,867.8C1332.4,875.1 1342.7,882.1 1353.0,889.1C1363.3,896.0 1373.8,902.8 1384.3,909.6C1394.7,916.4 1405.2,923.1 1415.7,929.9C1426.2,936.6 1436.6,943.4 1447.1,950.1C1457.6,956.9 1468.0,963.7 1478.4,970.6C1488.8,977.4 1499.2,984.3 1509.5,991.4C1519.7,998.5 1530.0,1005.6 1539.9,1013.1C1549.8,1020.7 1559.7,1028.3 1569.0,1036.6C1578.3,1044.9 1587.4,1053.5 1595.6,1062.8C1603.9,1072.1 1611.7,1081.9 1618.3,1092.4C1624.9,1102.9 1630.8,1114.2 1635.1,1125.8C1639.4,1137.4 1642.7,1149.7 1644.3,1161.9C1645.9,1174.2 1646.1,1186.9 1644.9,1199.2C1643.6,1211.5 1640.8,1224.0 1636.7,1235.6C1632.6,1247.3 1627.0,1258.7 1620.4,1269.2C1613.8,1279.6 1605.7,1289.5 1597.0,1298.2C1588.2,1306.9 1578.2,1314.8 1567.8,1321.5C1557.5,1328.2 1546.1,1333.9 1534.6,1338.5C1523.1,1343.1 1511.0,1346.5 1498.8,1349.3C1486.7,1352.0 1474.3,1353.6 1461.9,1354.8C1449.5,1355.9 1437.0,1356.2 1424.5,1356.3C1412.1,1356.4 1399.6,1355.8 1387.2,1355.1C1374.7,1354.5 1362.3,1353.4 1349.9,1352.3C1337.5,1351.2 1325.1,1349.9 1312.7,1348.6C1300.3,1347.4 1287.9,1346.0 1275.5,1344.7C1263.1,1343.4 1250.7,1342.1 1238.3,1340.9C1225.9,1339.7 1213.5,1338.6 1201.1,1337.7C1188.7,1336.7 1176.2,1335.9 1163.8,1335.4C1151.3,1334.9 1138.8,1334.6 1126.4,1334.7C1113.9,1334.8 1101.5,1335.2 1089.0,1336.0C1076.6,1336.9 1064.2,1338.2 1051.9,1339.9C1039.5,1341.6 1027.2,1343.8 1015.0,1346.2C1002.8,1348.7 990.7,1351.6 978.6,1354.5C966.5,1357.4 954.4,1360.7 942.3,1363.8C930.3,1366.8 918.2,1370.0 906.1,1372.8C893.9,1375.6 881.7,1378.3 869.5,1380.5C857.2,1382.7 844.9,1384.6 832.5,1386.0C820.1,1387.4 807.7,1388.3 795.2,1388.8C782.8,1389.2 770.3,1389.2 757.9,1388.7C745.4,1388.3 733.0,1387.3 720.6,1386.1C708.2,1384.8 695.8,1383.1 683.5,1381.2C671.2,1379.2 659.0,1376.9 646.8,1374.3C634.6,1371.7 622.5,1368.8 610.4,1365.6C598.4,1362.4 586.4,1358.9 574.6,1355.0C562.7,1351.1 551.0,1346.9 539.4,1342.3C527.8,1337.7 516.4,1332.8 505.1,1327.4C493.9,1322.0 482.8,1316.2 472.0,1310.1C461.2,1303.9 450.6,1297.3 440.3,1290.3C430.0,1283.3 419.9,1275.9 410.2,1268.1C400.5,1260.3 391.1,1252.1 382.1,1243.5C373.0,1235.0 364.3,1226.0 356.1,1216.7C347.8,1207.4 339.9,1197.7 332.5,1187.7C325.0,1177.7 318.0,1167.4 311.4,1156.8C304.9,1146.2 298.7,1135.3 293.1,1124.2C287.4,1113.2 282.1,1101.8 277.3,1090.3C272.6,1078.8 268.2,1067.1 264.3,1055.3C260.5,1043.5 257.0,1031.4 254.1,1019.4C251.1,1007.3 248.7,995.0 246.7,982.7C244.7,970.4 243.2,958.0 242.2,945.6C241.2,933.2 240.7,920.7 240.7,908.3C240.7,895.8 241.2,883.3 242.2,870.9C243.1,858.5 244.6,846.1 246.6,833.8C248.6,821.5 251.1,809.3 254.2,797.2Z" fill="none" stroke="#231f20" stroke-width="3.5" stroke-linejoin="round"/>
<path d="M1150.9,263.5C1163.2,262.5 1175.7,262.0 1188.1,262.0C1200.5,262.1 1213.0,262.8 1225.4,264.0C1237.7,265.2 1250.1,267.0 1262.3,269.3C1274.5,271.6 1286.6,274.5 1298.6,277.8C1310.6,281.1 1322.4,284.9 1334.1,289.1C1345.8,293.2 1357.4,297.9 1368.8,302.8C1380.2,307.7 1391.5,313.1 1402.5,318.8C1413.6,324.4 1424.5,330.5 1435.1,336.9C1445.7,343.4 1456.1,350.2 1466.2,357.5C1476.3,364.7 1486.2,372.4 1495.6,380.4C1505.0,388.5 1514.2,397.0 1522.9,405.8C1531.6,414.7 1540.0,423.9 1547.9,433.5C1555.8,443.1 1563.3,453.0 1570.4,463.2C1577.5,473.4 1584.2,484.0 1590.4,494.7C1596.6,505.5 1602.4,516.5 1607.7,527.7C1613.1,539.0 1617.9,550.4 1622.3,562.0C1626.8,573.7 1630.7,585.5 1634.2,597.4C1637.7,609.3 1640.7,621.4 1643.3,633.6C1645.9,645.7 1648.0,658.0 1649.8,670.3C1651.5,682.6 1652.8,695.0 1653.7,707.4C1654.6,719.8 1655.1,732.2 1655.2,744.7C1655.3,757.1 1654.9,769.5 1654.2,781.9C1653.4,794.3 1652.2,806.7 1650.6,819.1C1649.0,831.4 1646.9,843.7 1644.5,855.9C1642.0,868.0 1639.1,880.1 1635.8,892.1C1632.6,904.1 1628.9,916.0 1624.8,927.8C1620.7,939.5 1616.2,951.1 1611.4,962.5C1606.5,974.0 1601.3,985.3 1595.7,996.4C1590.2,1007.5 1584.2,1018.4 1578.0,1029.2C1571.9,1040.1 1565.4,1050.7 1558.8,1061.2C1552.2,1071.8 1545.4,1082.1 1538.6,1092.6C1531.9,1103.0 1525.0,1113.4 1518.4,1123.9C1511.8,1134.4 1505.1,1145.0 1498.9,1155.7C1492.7,1166.5 1486.7,1177.4 1481.2,1188.6C1475.7,1199.7 1470.6,1211.1 1465.9,1222.6C1461.2,1234.1 1457.1,1245.8 1453.2,1257.6C1449.4,1269.4 1446.0,1281.4 1442.8,1293.5C1439.6,1305.5 1436.8,1317.6 1434.0,1329.7C1431.2,1341.8 1428.6,1354.0 1425.9,1366.1C1423.3,1378.3 1420.7,1390.4 1418.0,1402.5C1415.2,1414.7 1412.5,1426.8 1409.5,1438.9C1406.6,1451.0 1403.6,1463.0 1400.4,1475.1C1397.2,1487.1 1393.9,1499.1 1390.2,1511.0C1386.6,1522.8 1382.9,1534.7 1378.6,1546.4C1374.3,1558.0 1369.8,1569.7 1364.5,1580.9C1359.3,1592.2 1353.7,1603.4 1347.2,1613.9C1340.6,1624.4 1333.5,1634.8 1325.4,1644.2C1317.3,1653.5 1308.4,1662.5 1298.7,1670.1C1289.0,1677.8 1278.4,1684.7 1267.3,1690.1C1256.2,1695.5 1244.2,1699.8 1232.2,1702.6C1220.2,1705.4 1207.6,1706.9 1195.3,1707.1C1182.9,1707.2 1170.3,1705.9 1158.2,1703.3C1146.2,1700.7 1134.1,1696.7 1122.9,1691.6C1111.7,1686.5 1100.8,1680.0 1090.9,1672.6C1081.0,1665.3 1071.7,1656.6 1063.4,1647.5C1055.1,1638.3 1047.7,1628.2 1041.0,1617.7C1034.3,1607.3 1028.6,1596.1 1023.4,1584.8C1018.2,1573.6 1013.9,1561.9 1009.9,1550.1C1005.8,1538.4 1002.5,1526.4 999.2,1514.4C996.0,1502.4 993.3,1490.2 990.5,1478.1C987.7,1466.0 985.3,1453.8 982.7,1441.6C980.1,1429.5 977.6,1417.3 975.0,1405.1C972.3,1393.0 969.7,1380.8 966.8,1368.7C964.0,1356.6 961.0,1344.6 957.7,1332.6C954.5,1320.6 951.0,1308.6 947.2,1296.8C943.4,1284.9 939.4,1273.2 934.9,1261.6C930.4,1250.0 925.6,1238.5 920.4,1227.2C915.2,1215.9 909.5,1204.8 903.6,1193.9C897.6,1183.0 891.2,1172.3 884.7,1161.8C878.2,1151.2 871.2,1140.8 864.4,1130.5C857.6,1120.1 850.5,1109.9 843.6,1099.5C836.8,1089.1 829.9,1078.7 823.4,1068.2C816.9,1057.6 810.5,1046.9 804.5,1036.0C798.6,1025.0 793.0,1013.9 787.8,1002.6C782.6,991.3 777.9,979.8 773.5,968.2C769.2,956.5 765.3,944.7 761.8,932.8C758.2,920.9 755.1,908.8 752.2,896.7C749.4,884.6 746.9,872.4 744.6,860.2C742.3,848.0 740.3,835.7 738.6,823.4C736.9,811.1 735.5,798.7 734.4,786.4C733.3,774.0 732.4,761.5 732.0,749.1C731.6,736.7 731.5,724.2 731.9,711.8C732.3,699.4 733.1,687.0 734.3,674.6C735.6,662.3 737.3,649.9 739.6,637.7C741.8,625.5 744.5,613.3 747.8,601.3C751.0,589.3 754.7,577.4 758.9,565.7C763.1,554.0 767.8,542.5 772.9,531.2C778.1,519.9 783.7,508.8 789.8,497.9C795.9,487.1 802.5,476.5 809.5,466.2C816.4,455.9 823.8,445.9 831.6,436.2C839.4,426.5 847.6,417.1 856.1,408.1C864.6,399.0 873.5,390.3 882.7,381.9C891.9,373.6 901.4,365.6 911.2,358.0C921.1,350.3 931.2,343.1 941.6,336.3C952.0,329.5 962.7,323.1 973.6,317.1C984.5,311.2 995.7,305.7 1007.0,300.7C1018.4,295.6 1030.0,291.1 1041.7,287.0C1053.5,282.9 1065.4,279.3 1077.4,276.2C1089.5,273.0 1101.6,270.4 1113.9,268.3C1126.1,266.2 1138.5,264.6 1150.9,263.5Z" fill="none" stroke="#231f20" stroke-width="3.5" stroke-linejoin="round"/>
<path d="M1975.8,962.1C1980.2,973.8 1984.2,985.6 1987.7,997.5C1991.2,1009.5 1994.2,1021.6 1996.7,1033.8C1999.2,1046.0 2001.1,1058.3 2002.6,1070.7C2004.0,1083.0 2004.9,1095.5 2005.3,1107.9C2005.8,1120.4 2005.7,1132.8 2005.2,1145.3C2004.8,1157.7 2003.8,1170.2 2002.5,1182.5C2001.1,1194.9 1999.4,1207.3 1997.2,1219.5C1994.9,1231.8 1992.3,1244.0 1989.2,1256.0C1986.1,1268.1 1982.6,1280.0 1978.5,1291.8C1974.5,1303.6 1969.9,1315.2 1964.9,1326.6C1959.9,1338.0 1954.3,1349.2 1948.3,1360.1C1942.3,1371.0 1935.8,1381.6 1928.9,1392.0C1921.9,1402.3 1914.5,1412.4 1906.7,1422.0C1898.9,1431.7 1890.7,1441.1 1882.1,1450.1C1873.5,1459.1 1864.5,1467.8 1855.2,1476.0C1845.8,1484.2 1836.1,1492.1 1826.1,1499.5C1816.1,1506.9 1805.7,1513.8 1795.2,1520.4C1784.6,1526.9 1773.7,1533.0 1762.6,1538.7C1751.5,1544.4 1740.2,1549.6 1728.7,1554.5C1717.3,1559.4 1705.6,1563.8 1693.9,1567.9C1682.1,1572.0 1670.2,1575.7 1658.2,1579.0C1646.2,1582.3 1634.1,1585.3 1621.9,1587.9C1609.7,1590.5 1597.5,1592.8 1585.2,1594.6C1572.9,1596.5 1560.5,1598.0 1548.1,1599.2C1535.7,1600.4 1523.2,1601.1 1510.8,1601.6C1498.4,1602.0 1485.9,1602.1 1473.4,1601.7C1461.0,1601.4 1448.5,1600.7 1436.1,1599.6C1423.7,1598.5 1411.4,1596.9 1399.0,1595.1C1386.7,1593.2 1374.5,1590.8 1362.3,1588.2C1350.1,1585.6 1338.1,1582.6 1326.0,1579.4C1314.0,1576.3 1302.0,1572.7 1290.1,1569.3C1278.1,1565.8 1266.2,1562.1 1254.2,1558.7C1242.2,1555.3 1230.3,1551.8 1218.2,1548.8C1206.1,1545.8 1194.0,1542.9 1181.7,1540.6C1169.5,1538.3 1157.2,1536.4 1144.8,1535.0C1132.4,1533.5 1120.0,1532.6 1107.6,1532.1C1095.1,1531.5 1082.7,1531.5 1070.2,1531.7C1057.8,1531.8 1045.3,1532.4 1032.9,1533.0C1020.4,1533.7 1008.0,1534.6 995.6,1535.4C983.2,1536.2 970.7,1537.2 958.3,1538.1C945.9,1538.9 933.5,1539.8 921.0,1540.5C908.6,1541.3 896.2,1542.0 883.7,1542.5C871.3,1543.0 858.8,1543.4 846.4,1543.5C833.9,1543.7 821.4,1543.7 809.0,1543.1C796.6,1542.6 784.1,1541.8 771.8,1540.3C759.4,1538.7 747.0,1536.8 735.0,1533.7C723.0,1530.7 710.9,1527.0 699.5,1522.1C688.1,1517.2 676.9,1511.4 666.7,1504.4C656.5,1497.4 646.7,1489.2 638.3,1480.2C629.8,1471.2 622.2,1461.0 615.9,1450.4C609.7,1439.7 604.6,1428.0 601.0,1416.2C597.3,1404.4 595.0,1391.9 594.0,1379.6C593.1,1367.3 593.6,1354.5 595.4,1342.3C597.2,1330.1 600.5,1317.8 604.9,1306.2C609.3,1294.7 615.1,1283.4 621.7,1272.9C628.2,1262.4 636.0,1252.5 644.3,1243.2C652.5,1234.0 661.7,1225.4 671.1,1217.3C680.5,1209.1 690.5,1201.7 700.7,1194.4C710.8,1187.2 721.3,1180.5 731.8,1173.8C742.3,1167.1 753.1,1160.8 763.8,1154.4C774.5,1148.1 785.3,1141.9 796.0,1135.5C806.8,1129.2 817.5,1123.0 828.2,1116.6C838.9,1110.2 849.6,1103.8 860.1,1097.2C870.7,1090.6 881.3,1084.0 891.7,1077.2C902.1,1070.4 912.5,1063.5 922.7,1056.3C932.9,1049.2 943.0,1041.9 952.9,1034.3C962.8,1026.8 972.6,1019.0 982.1,1011.0C991.6,1002.9 1000.9,994.6 1009.9,986.1C1019.0,977.5 1027.8,968.7 1036.4,959.7C1045.0,950.8 1053.4,941.5 1061.8,932.3C1070.1,923.1 1078.3,913.6 1086.6,904.4C1094.9,895.1 1103.1,885.7 1111.6,876.6C1120.0,867.4 1128.5,858.3 1137.4,849.6C1146.2,840.8 1155.2,832.2 1164.5,823.9C1173.9,815.6 1183.4,807.6 1193.3,800.0C1203.1,792.4 1213.2,785.0 1223.5,778.0C1233.7,771.0 1244.3,764.3 1255.0,757.9C1265.7,751.6 1276.6,745.5 1287.6,739.7C1298.6,734.0 1309.9,728.5 1321.2,723.4C1332.5,718.3 1344.1,713.5 1355.7,709.0C1367.3,704.6 1379.1,700.5 1391.0,696.9C1402.9,693.2 1415.0,690.0 1427.1,687.2C1439.2,684.4 1451.5,682.0 1463.8,680.1C1476.1,678.1 1488.5,676.7 1500.9,675.6C1513.3,674.6 1525.7,674.0 1538.2,673.9C1550.6,673.7 1563.1,674.0 1575.5,674.7C1587.9,675.4 1600.4,676.5 1612.7,678.1C1625.1,679.6 1637.4,681.6 1649.6,684.1C1661.8,686.5 1673.9,689.4 1685.9,692.8C1697.9,696.2 1709.8,700.0 1721.5,704.4C1733.1,708.7 1744.7,713.5 1755.9,718.8C1767.2,724.1 1778.2,729.9 1789.0,736.1C1799.7,742.4 1810.3,749.2 1820.4,756.4C1830.5,763.6 1840.4,771.3 1849.8,779.4C1859.3,787.5 1868.3,796.1 1877.0,805.0C1885.6,813.9 1893.9,823.3 1901.7,833.0C1909.6,842.6 1917.0,852.7 1924.0,863.0C1931.0,873.3 1937.6,883.9 1943.8,894.7C1949.9,905.5 1955.7,916.5 1961.0,927.8C1966.4,939.0 1971.3,950.5 1975.8,962.1Z" fill="none" stroke="#231f20" stroke-width="3.5" stroke-linejoin="round"/>
<path d="M1552.4,1925.3C1542.7,1933.1 1532.7,1940.6 1522.5,1947.7C1512.3,1954.8 1501.8,1961.5 1491.0,1967.8C1480.3,1974.1 1469.3,1980.0 1458.1,1985.5C1447.0,1990.9 1435.5,1995.9 1424.0,2000.5C1412.4,2005.1 1400.6,2009.2 1388.7,2012.9C1376.9,2016.6 1364.8,2019.9 1352.7,2022.7C1340.6,2025.5 1328.3,2028.0 1316.1,2029.9C1303.8,2031.8 1291.4,2033.3 1279.0,2034.2C1266.6,2035.2 1254.1,2035.6 1241.7,2035.5C1229.2,2035.4 1216.7,2034.8 1204.4,2033.6C1192.0,2032.4 1179.6,2030.7 1167.4,2028.5C1155.2,2026.2 1143.0,2023.4 1131.0,2020.2C1119.0,2016.9 1107.1,2013.1 1095.4,2008.9C1083.7,2004.7 1072.1,2000.0 1060.8,1994.9C1049.5,1989.7 1038.3,1984.1 1027.4,1978.1C1016.5,1972.1 1005.9,1965.6 995.5,1958.7C985.2,1951.8 975.1,1944.4 965.4,1936.6C955.7,1928.9 946.3,1920.6 937.2,1912.1C928.2,1903.6 919.5,1894.6 911.2,1885.4C902.9,1876.1 894.9,1866.5 887.3,1856.7C879.7,1846.8 872.5,1836.7 865.6,1826.3C858.7,1815.9 852.2,1805.3 846.0,1794.5C839.9,1783.7 834.1,1772.6 828.6,1761.5C823.1,1750.3 818.0,1738.9 813.1,1727.5C808.3,1716.0 803.8,1704.4 799.6,1692.7C795.4,1680.9 791.5,1669.1 787.9,1657.2C784.3,1645.3 781.0,1633.3 778.0,1621.2C775.1,1609.1 772.4,1596.9 770.1,1584.7C767.8,1572.5 765.8,1560.1 764.1,1547.8C762.4,1535.5 761.1,1523.1 760.0,1510.7C758.8,1498.3 758.0,1485.9 757.1,1473.5C756.3,1461.0 755.7,1448.6 754.8,1436.2C754.0,1423.8 753.3,1411.3 752.1,1398.9C750.9,1386.5 749.7,1374.1 747.9,1361.8C746.2,1349.5 744.1,1337.2 741.6,1325.0C739.1,1312.8 736.1,1300.7 732.8,1288.7C729.5,1276.7 725.8,1264.8 721.9,1253.0C717.9,1241.2 713.6,1229.5 709.3,1217.9C704.9,1206.2 700.3,1194.6 695.7,1183.1C691.1,1171.5 686.4,1160.0 681.7,1148.5C677.0,1136.9 672.3,1125.4 667.6,1113.8C663.0,1102.3 658.3,1090.7 653.8,1079.1C649.3,1067.5 644.8,1055.9 640.6,1044.2C636.5,1032.5 632.3,1020.7 628.8,1008.8C625.2,996.9 621.8,984.9 619.2,972.7C616.7,960.5 614.5,948.2 613.5,935.8C612.4,923.5 612.0,910.9 613.1,898.5C614.1,886.2 616.1,873.7 619.5,861.8C622.9,849.9 627.7,838.1 633.6,827.3C639.5,816.5 646.9,806.0 655.1,796.8C663.3,787.6 672.9,779.2 683.0,772.1C693.0,765.0 704.2,758.9 715.6,754.2C727.1,749.5 739.3,746.0 751.5,744.0C763.7,741.9 776.3,741.2 788.7,741.7C801.0,742.2 813.5,744.1 825.6,747.0C837.6,749.9 849.5,754.1 860.9,758.9C872.4,763.7 883.4,769.7 894.1,776.0C904.9,782.2 915.2,789.3 925.3,796.5C935.4,803.7 945.2,811.5 954.9,819.3C964.6,827.1 974.0,835.2 983.5,843.3C993.0,851.4 1002.3,859.7 1011.7,867.8C1021.1,876.0 1030.5,884.2 1039.9,892.3C1049.4,900.4 1058.8,908.5 1068.4,916.4C1078.0,924.4 1087.6,932.3 1097.4,940.0C1107.2,947.7 1117.0,955.3 1127.0,962.7C1137.1,970.1 1147.2,977.3 1157.5,984.2C1167.9,991.2 1178.4,997.9 1189.0,1004.3C1199.7,1010.7 1210.6,1016.7 1221.6,1022.5C1232.7,1028.3 1243.9,1033.7 1255.2,1038.9C1266.5,1044.1 1278.0,1049.0 1289.4,1053.9C1300.8,1058.8 1312.4,1063.4 1323.9,1068.3C1335.4,1073.1 1346.9,1077.8 1358.3,1082.8C1369.6,1087.9 1381.0,1093.0 1392.2,1098.5C1403.3,1104.0 1414.4,1109.8 1425.2,1115.9C1436.0,1122.1 1446.7,1128.6 1457.1,1135.4C1467.5,1142.2 1477.7,1149.4 1487.6,1156.8C1497.6,1164.3 1507.3,1172.1 1516.8,1180.1C1526.3,1188.2 1535.6,1196.5 1544.6,1205.1C1553.6,1213.7 1562.3,1222.6 1570.8,1231.7C1579.3,1240.8 1587.5,1250.1 1595.4,1259.8C1603.3,1269.4 1610.9,1279.3 1618.2,1289.4C1625.4,1299.5 1632.3,1309.9 1638.8,1320.5C1645.3,1331.1 1651.4,1342.0 1657.1,1353.1C1662.8,1364.1 1668.1,1375.4 1673.0,1386.9C1677.9,1398.3 1682.4,1409.9 1686.5,1421.7C1690.7,1433.4 1694.4,1445.3 1697.8,1457.3C1701.1,1469.2 1704.1,1481.4 1706.7,1493.5C1709.3,1505.7 1711.5,1518.0 1713.2,1530.3C1714.9,1542.6 1716.3,1555.0 1717.1,1567.4C1717.9,1579.9 1718.2,1592.3 1718.0,1604.8C1717.8,1617.2 1717.1,1629.7 1715.9,1642.0C1714.6,1654.4 1712.8,1666.8 1710.4,1679.0C1707.9,1691.2 1704.9,1703.3 1701.3,1715.2C1697.7,1727.1 1693.5,1738.9 1688.8,1750.3C1684.0,1761.8 1678.6,1773.1 1672.7,1784.0C1666.8,1795.0 1660.3,1805.7 1653.5,1816.0C1646.6,1826.4 1639.1,1836.4 1631.4,1846.2C1623.7,1855.9 1615.5,1865.3 1607.0,1874.4C1598.5,1883.5 1589.7,1892.3 1580.6,1900.8C1571.5,1909.3 1562.0,1917.5 1552.4,1925.3Z" fill="none" stroke="#231f20" stroke-width="3.5" stroke-linejoin="round"/>
<path d="M473.4,1834.1C463.2,1827.1 453.2,1819.6 443.6,1811.6C434.1,1803.7 424.8,1795.3 416.0,1786.5C407.2,1777.7 398.8,1768.5 390.8,1759.0C382.8,1749.5 375.2,1739.6 367.9,1729.5C360.7,1719.4 353.9,1708.9 347.4,1698.3C340.9,1687.7 334.7,1676.9 328.9,1665.9C323.1,1654.9 317.6,1643.7 312.5,1632.3C307.4,1621.0 302.7,1609.5 298.4,1597.8C294.1,1586.1 290.1,1574.3 286.7,1562.3C283.3,1550.4 280.4,1538.2 277.9,1526.0C275.5,1513.8 273.6,1501.5 272.2,1489.1C270.9,1476.8 270.0,1464.3 269.7,1451.9C269.4,1439.5 269.6,1427.0 270.3,1414.6C271.0,1402.2 272.2,1389.7 274.0,1377.4C275.7,1365.1 277.9,1352.8 280.7,1340.7C283.4,1328.6 286.7,1316.5 290.4,1304.7C294.2,1292.8 298.4,1281.1 303.2,1269.6C307.9,1258.1 313.1,1246.8 318.8,1235.7C324.4,1224.6 330.5,1213.7 337.0,1203.1C343.5,1192.5 350.5,1182.1 357.7,1172.0C365.0,1162.0 372.7,1152.1 380.6,1142.6C388.6,1133.0 397.0,1123.8 405.6,1114.8C414.2,1105.8 423.2,1097.2 432.4,1088.8C441.6,1080.4 451.1,1072.3 460.8,1064.5C470.4,1056.7 480.4,1049.2 490.5,1042.0C500.6,1034.8 511.0,1027.8 521.5,1021.1C532.0,1014.4 542.6,1008.0 553.5,1001.9C564.3,995.8 575.3,989.9 586.4,984.4C597.5,978.8 608.8,973.5 620.2,968.5C631.6,963.4 643.1,958.7 654.7,954.1C666.2,949.5 677.9,945.2 689.6,940.8C701.2,936.4 712.9,932.2 724.6,927.8C736.2,923.4 747.9,919.1 759.4,914.4C770.9,909.7 782.4,904.9 793.7,899.6C805.0,894.4 816.2,888.9 827.1,883.0C838.1,877.1 848.9,870.8 859.5,864.3C870.0,857.8 880.4,850.9 890.7,843.8C900.9,836.8 911.0,829.5 921.0,822.1C931.1,814.7 941.0,807.2 950.9,799.6C960.7,792.1 970.6,784.4 980.4,776.8C990.2,769.2 1000.0,761.5 1009.9,753.9C1019.7,746.3 1029.6,738.6 1039.5,731.1C1049.4,723.6 1059.3,716.0 1069.3,708.7C1079.4,701.4 1089.5,694.1 1099.9,687.3C1110.3,680.5 1120.9,673.8 1131.8,667.9C1142.7,662.0 1153.9,656.3 1165.5,651.8C1177.0,647.3 1189.0,643.3 1201.1,640.8C1213.2,638.2 1225.8,636.6 1238.1,636.6C1250.5,636.5 1263.2,637.7 1275.2,640.4C1287.2,643.1 1299.3,647.2 1310.4,652.6C1321.5,658.0 1332.3,664.8 1341.9,672.5C1351.5,680.2 1360.5,689.3 1368.1,699.0C1375.8,708.6 1382.6,719.4 1388.0,730.5C1393.4,741.6 1397.6,753.6 1400.6,765.6C1403.6,777.5 1405.3,790.1 1406.0,802.5C1406.7,814.8 1406.0,827.4 1404.6,839.7C1403.3,852.0 1400.7,864.3 1397.8,876.4C1394.8,888.5 1390.9,900.3 1386.8,912.1C1382.6,923.8 1377.8,935.3 1373.0,946.8C1368.1,958.2 1362.8,969.5 1357.5,980.7C1352.2,992.0 1346.6,1003.1 1341.2,1014.3C1335.7,1025.5 1330.2,1036.6 1324.8,1047.8C1319.3,1059.1 1313.9,1070.3 1308.7,1081.5C1303.5,1092.8 1298.3,1104.2 1293.4,1115.6C1288.5,1127.1 1283.8,1138.6 1279.4,1150.2C1275.0,1161.9 1270.8,1173.6 1267.1,1185.5C1263.3,1197.3 1259.9,1209.3 1256.9,1221.4C1253.9,1233.5 1251.4,1245.7 1249.2,1257.9C1247.0,1270.2 1245.3,1282.5 1243.8,1294.9C1242.3,1307.2 1241.2,1319.6 1240.0,1332.0C1238.9,1344.4 1238.1,1356.8 1237.0,1369.2C1235.8,1381.6 1234.8,1394.0 1233.3,1406.4C1231.9,1418.7 1230.3,1431.1 1228.2,1443.4C1226.1,1455.6 1223.7,1467.9 1220.8,1480.0C1217.9,1492.0 1214.6,1504.1 1210.8,1515.9C1207.1,1527.8 1202.9,1539.5 1198.3,1551.1C1193.8,1562.7 1188.8,1574.1 1183.6,1585.4C1178.4,1596.7 1172.9,1607.9 1167.1,1618.9C1161.3,1629.9 1155.2,1640.8 1148.8,1651.5C1142.5,1662.2 1135.9,1672.7 1129.0,1683.1C1122.0,1693.4 1114.8,1703.6 1107.2,1713.4C1099.7,1723.3 1091.8,1733.0 1083.6,1742.3C1075.3,1751.6 1066.7,1760.7 1057.8,1769.3C1048.9,1778.0 1039.6,1786.3 1030.0,1794.2C1020.4,1802.1 1010.5,1809.7 1000.3,1816.8C990.1,1823.9 979.6,1830.7 968.9,1837.0C958.1,1843.3 947.1,1849.2 936.0,1854.6C924.8,1860.1 913.4,1865.2 901.9,1869.8C890.3,1874.4 878.6,1878.6 866.7,1882.4C854.9,1886.2 842.9,1889.6 830.8,1892.5C818.7,1895.5 806.5,1898.0 794.2,1900.1C782.0,1902.2 769.6,1903.8 757.2,1905.0C744.9,1906.2 732.4,1906.9 720.0,1907.1C707.5,1907.4 695.1,1907.1 682.6,1906.3C670.2,1905.5 657.8,1904.2 645.5,1902.3C633.3,1900.4 621.0,1897.9 608.9,1895.0C596.9,1892.0 584.9,1888.4 573.1,1884.4C561.4,1880.3 549.8,1875.7 538.5,1870.6C527.1,1865.5 516.0,1859.9 505.1,1853.8C494.3,1847.7 483.6,1841.2 473.4,1834.1Z" fill="none" stroke="#231f20" stroke-width="3.5" stroke-linejoin="round"/>
<text transform="translate(1250.40,496.90) scale(1,1.01)" font-size="44.5" fill="#231f20" text-anchor="middle">63,957</text>
<text transform="translate(892.90,657.70) scale(1,1.01)" font-size="44.5" fill="#231f20" text-anchor="middle">67,291</text>
<text transform="translate(1246.70,713.20) scale(1,1.01)" font-size="44.5" fill="#231f20" text-anchor="middle">29,103</text>
<text transform="translate(475.70,796.20) scale(1,1.01)" font-size="44.5" fill="#231f20" text-anchor="middle">175,090</text>
<text transform="translate(1078.60,811.00) scale(1,1.01)" font-size="44.5" fill="#231f20" text-anchor="middle">3,600</text>
<text transform="translate(1328.40,819.30) scale(1,1.01)" font-size="44.5" fill="#231f20" text-anchor="middle">6,657</text>
<text transform="translate(812.50,835.80) scale(1,1.01)" font-size="44.5" fill="#231f20" text-anchor="middle">61,267</text>
<text transform="translate(1517.00,852.40) scale(1,1.01)" font-size="44.5" fill="#231f20" text-anchor="middle">14,204</text>
<text transform="translate(667.70,887.20) scale(1,1.01)" font-size="44.5" fill="#231f20" text-anchor="middle">148,101</text>
<text transform="translate(1226.80,945.30) scale(1,1.01)" font-size="44.5" fill="#231f20" text-anchor="middle">588</text>
<text transform="translate(901.20,971.10) scale(1,1.01)" font-size="44.5" fill="#231f20" text-anchor="middle">1,998</text>
<text transform="translate(1432.40,1058.00) scale(1,1.01)" font-size="44.5" fill="#231f20" text-anchor="middle">12,341</text>
<text transform="translate(719.60,1069.60) scale(1,1.01)" font-size="44.5" fill="#231f20" text-anchor="middle">6,700</text>
<text transform="translate(1784.60,1134.70) scale(1,1.01)" font-size="44.5" fill="#231f20" text-anchor="middle">71,605</text>
<text transform="translate(1077.70,1178.10) scale(1,1.01)" font-size="44.5" fill="#231f20" text-anchor="middle">297</text>
<text transform="translate(1576.00,1176.90) scale(1,1.01)" font-size="44.5" fill="#231f20" text-anchor="middle">7,158</text>
<text transform="translate(523.80,1190.90) scale(1,1.01)" font-size="44.5" fill="#231f20" text-anchor="middle">17,857</text>
<text transform="translate(1349.50,1244.40) scale(1,1.01)" font-size="44.5" fill="#231f20" text-anchor="middle">11,386</text>
<text transform="translate(820.70,1283.20) scale(1,1.01)" font-size="44.5" fill="#231f20" text-anchor="middle">137</text>
<text transform="translate(1515.30,1294.10) scale(1,1.01)" font-size="44.5" fill="#231f20" text-anchor="middle">5,565</text>
<text transform="translate(669.70,1330.20) scale(1,1.01)" font-size="44.5" fill="#231f20" text-anchor="middle">1,222</text>
<text transform="translate(1098.40,1452.30) scale(1,1.01)" font-size="44.5" fill="#231f20" text-anchor="middle">127</text>
<text transform="translate(686.30,1466.10) scale(1,1.01)" font-size="44.5" fill="#231f20" text-anchor="middle">50,850</text>
<text transform="translate(1305.60,1478.10) scale(1,1.01)" font-size="44.5" fill="#231f20" text-anchor="middle">5,385</text>
<text transform="translate(864.70,1482.10) scale(1,1.01)" font-size="44.5" fill="#231f20" text-anchor="middle">920</text>
<text transform="translate(1538.00,1492.60) scale(1,1.01)" font-size="44.5" fill="#231f20" text-anchor="middle">15,185</text>
<text transform="translate(1098.90,1614.80) scale(1,1.01)" font-size="44.5" fill="#231f20" text-anchor="middle">1,750</text>
<text transform="translate(524.80,1625.10) scale(1,1.01)" font-size="44.5" fill="#231f20" text-anchor="middle">424,218</text>
<text transform="translate(1229.00,1651.10) scale(1,1.01)" font-size="44.5" fill="#231f20" text-anchor="middle">27,572</text>
<text transform="translate(921.30,1703.20) scale(1,1.01)" font-size="44.5" fill="#231f20" text-anchor="middle">15,122</text>
<text transform="translate(1331.80,1834.50) scale(1,1.01)" font-size="44.5" fill="#231f20" text-anchor="middle">317,338</text>
<text transform="translate(1219.70,225.60) scale(1,1.01)" font-size="55" fill="#231f20" text-anchor="middle">FST</text>
<text transform="translate(354.50,540.00) scale(1,1.01)" font-size="55" fill="#231f20" text-anchor="middle">PI</text>
<text transform="translate(1941.80,745.60) scale(1,1.01)" font-size="55" fill="#231f20" text-anchor="middle">XPCLR</text>
<text transform="translate(1760.90,1933.70) scale(1,1.01)" font-size="55" fill="#231f20" text-anchor="middle">XPEHH</text>
<text transform="translate(387.30,1869.00) scale(1,1.01)" font-size="55" fill="#231f20" text-anchor="middle">IHS</text>
</g>
<g id="legend">
<defs><linearGradient id="lg" x1="0" y1="1" x2="0" y2="0">
<stop offset="0.0000" stop-color="#016cb5"/>
<stop offset="0.0120" stop-color="#0271b8"/>
<stop offset="0.0350" stop-color="#027bbe"/>
<stop offset="0.0550" stop-color="#0480c0"/>
<stop offset="0.0655" stop-color="#0684c2"/>
<stop offset="0.0678" stop-color="#1d88c4"/>
<stop offset="0.1000" stop-color="#2494ca"/>
<stop offset="0.1350" stop-color="#2fa0d0"/>
<stop offset="0.1670" stop-color="#3eadd5"/>
<stop offset="0.1950" stop-color="#64badd"/>
<stop offset="0.2355" stop-color="#89c6e2"/>
<stop offset="0.2850" stop-color="#acd7ec"/>
<stop offset="0.3330" stop-color="#cbe6f3"/>
<stop offset="0.4000" stop-color="#ddeff8"/>
<stop offset="0.4680" stop-color="#f6f9fb"/>
<stop offset="0.5000" stop-color="#fafafb"/>
<stop offset="0.6670" stop-color="#ffdccb"/>
<stop offset="0.8330" stop-color="#ff8c69"/>
<stop offset="0.8750" stop-color="#fe765c"/>
<stop offset="0.9000" stop-color="#f86955"/>
<stop offset="0.9350" stop-color="#ec554b"/>
<stop offset="0.9690" stop-color="#e04244"/>
<stop offset="1.0000" stop-color="#d1303d"/>
</linearGradient></defs>
<rect x="2112.1" y="1016.2" width="58.3" height="285.4" fill="url(#lg)"/>
<path d="M2112.1,1032.5 h13.0 M2157.4,1032.5 h13.0" stroke="#fff" stroke-width="2.6"/>
<text x="2187.8" y="1063.9" font-size="45" fill="#231f20">4 × 10<tspan font-size="24.5" dy="-17.4">5</tspan></text>
<path d="M2112.1,1099.8 h13.0 M2157.4,1099.8 h13.0" stroke="#fff" stroke-width="2.6"/>
<text x="2187.8" y="1140.6" font-size="45" fill="#231f20">3 × 10<tspan font-size="24.5" dy="-17.4">5</tspan></text>
<path d="M2112.1,1167.1 h13.0 M2157.4,1167.1 h13.0" stroke="#fff" stroke-width="2.6"/>
<text x="2187.8" y="1212.5" font-size="45" fill="#231f20">2 × 10<tspan font-size="24.5" dy="-17.4">5</tspan></text>
<path d="M2112.1,1234.4 h13.0 M2157.4,1234.4 h13.0" stroke="#fff" stroke-width="2.6"/>
<text x="2187.8" y="1285.1" font-size="45" fill="#231f20">1 × 10<tspan font-size="24.5" dy="-17.4">5</tspan></text>
<text transform="translate(2113.50,993.60) scale(1,1.03)" font-size="58.5" fill="#231f20">count</text>
</g>
<g id="upset">
<rect x="619.4" y="3123.1" width="1487.6" height="117.6" fill="#f9f9f7"/>
<rect x="619.4" y="3357.7" width="1487.6" height="117.6" fill="#f9f9f7"/>
<rect x="619.4" y="3592.3" width="1487.6" height="117.6" fill="#f9f9f7"/>
<rect x="767.2" y="2273.9" width="128.8" height="836.6" fill="#45484a"/>
<text transform="translate(843.30,2257.58) scale(1,1.01)" font-size="45.3" fill="#45484a" text-anchor="middle">11,386</text>
<rect x="979.7" y="2962.9" width="128.8" height="147.6" fill="#45484a"/>
<text transform="translate(1059.60,2946.57) scale(1,1.01)" font-size="45.3" fill="#45484a" text-anchor="middle">1,998</text>
<rect x="1192.2" y="3066.3" width="128.8" height="44.2" fill="#45484a"/>
<text transform="translate(1259.60,3050.05) scale(1,1.01)" font-size="45.3" fill="#45484a" text-anchor="middle">588</text>
<rect x="1404.7" y="3087.7" width="128.8" height="22.8" fill="#45484a"/>
<text transform="translate(1472.30,3071.40) scale(1,1.01)" font-size="45.3" fill="#45484a" text-anchor="middle">297</text>
<rect x="1617.2" y="3099.4" width="128.8" height="11.1" fill="#45484a"/>
<text transform="translate(1685.30,3083.15) scale(1,1.01)" font-size="45.3" fill="#45484a" text-anchor="middle">137</text>
<rect x="1829.7" y="3100.2" width="128.8" height="10.3" fill="#45484a"/>
<text transform="translate(1897.40,3083.88) scale(1,1.01)" font-size="45.3" fill="#45484a" text-anchor="middle">127</text>
<path d="M621.10,2143.9 V3122.9" stroke="#222222" stroke-width="3.7" fill="none"/>
<path d="M611.2,2522.5 H621.1" stroke="#454547" stroke-width="5.5"/>
<path d="M611.2,2816.2 H621.1" stroke="#454547" stroke-width="5.5"/>
<path d="M611.2,3109.9 H621.1" stroke="#454547" stroke-width="5.5"/>
<path d="M619.25,3109.90 H2107.0" stroke="#222222" stroke-width="5.6" fill="none"/>
<text transform="translate(612.60,2235.30) scale(1,1.01)" font-size="34.8" fill="#4d4d4d" text-anchor="end">12,000</text>
<text transform="translate(615.40,2537.30) scale(1,1.01)" font-size="34.8" fill="#4d4d4d" text-anchor="end">8,000</text>
<text transform="translate(615.40,2825.00) scale(1,1.01)" font-size="34.8" fill="#4d4d4d" text-anchor="end">4,000</text>
<text transform="translate(611.40,3114.60) scale(1,1.01)" font-size="34.8" fill="#4d4d4d" text-anchor="end">0</text>
<text transform="translate(491.80,2536.70) rotate(-90) scale(1,1.03)" font-size="59.4" fill="#231f20" text-anchor="middle">Intersection Size</text>
<circle cx="831.6" cy="3181.9" r="8.7" fill="#45484a" fill-opacity="0.1"/>
<circle cx="1044.1" cy="3299.2" r="8.7" fill="#45484a" fill-opacity="0.1"/>
<circle cx="1256.6" cy="3416.5" r="8.7" fill="#45484a" fill-opacity="0.1"/>
<circle cx="1681.6" cy="3533.8" r="8.7" fill="#45484a" fill-opacity="0.1"/>
<circle cx="1894.1" cy="3651.1" r="8.7" fill="#45484a" fill-opacity="0.1"/>
<path d="M831.6,3299.2 V3651.1" stroke="#45484a" stroke-width="8.4"/>
<circle cx="831.6" cy="3299.2" r="8.7" fill="#45484a"/>
<circle cx="831.6" cy="3416.5" r="8.7" fill="#45484a"/>
<circle cx="831.6" cy="3533.8" r="8.7" fill="#45484a"/>
<circle cx="831.6" cy="3651.1" r="8.7" fill="#45484a"/>
<path d="M1044.1,3181.9 V3651.1" stroke="#45484a" stroke-width="8.4"/>
<circle cx="1044.1" cy="3181.9" r="8.7" fill="#45484a"/>
<circle cx="1044.1" cy="3416.5" r="8.7" fill="#45484a"/>
<circle cx="1044.1" cy="3533.8" r="8.7" fill="#45484a"/>
<circle cx="1044.1" cy="3651.1" r="8.7" fill="#45484a"/>
<path d="M1256.6,3181.9 V3651.1" stroke="#45484a" stroke-width="8.4"/>
<circle cx="1256.6" cy="3181.9" r="8.7" fill="#45484a"/>
<circle cx="1256.6" cy="3299.2" r="8.7" fill="#45484a"/>
<circle cx="1256.6" cy="3533.8" r="8.7" fill="#45484a"/>
<circle cx="1256.6" cy="3651.1" r="8.7" fill="#45484a"/>
<path d="M1469.1,3181.9 V3651.1" stroke="#45484a" stroke-width="8.4"/>
<circle cx="1469.1" cy="3181.9" r="8.7" fill="#45484a"/>
<circle cx="1469.1" cy="3299.2" r="8.7" fill="#45484a"/>
<circle cx="1469.1" cy="3416.5" r="8.7" fill="#45484a"/>
<circle cx="1469.1" cy="3533.8" r="8.7" fill="#45484a"/>
<circle cx="1469.1" cy="3651.1" r="8.7" fill="#45484a"/>
<path d="M1681.6,3181.9 V3651.1" stroke="#45484a" stroke-width="8.4"/>
<circle cx="1681.6" cy="3181.9" r="8.7" fill="#45484a"/>
<circle cx="1681.6" cy="3299.2" r="8.7" fill="#45484a"/>
<circle cx="1681.6" cy="3416.5" r="8.7" fill="#45484a"/>
<circle cx="1681.6" cy="3651.1" r="8.7" fill="#45484a"/>
<path d="M1894.1,3181.9 V3533.8" stroke="#45484a" stroke-width="8.4"/>
<circle cx="1894.1" cy="3181.9" r="8.7" fill="#45484a"/>
<circle cx="1894.1" cy="3299.2" r="8.7" fill="#45484a"/>
<circle cx="1894.1" cy="3416.5" r="8.7" fill="#45484a"/>
<circle cx="1894.1" cy="3533.8" r="8.7" fill="#45484a"/>
<text transform="translate(597.60,3201.20) scale(1,1.03)" font-size="40" fill="#231f20" text-anchor="middle">IHS</text>
<text transform="translate(598.00,3317.70) scale(1,1.03)" font-size="40" fill="#231f20" text-anchor="middle">XPCLR</text>
<text transform="translate(599.10,3433.90) scale(1,1.03)" font-size="40" fill="#231f20" text-anchor="middle">XPEHH</text>
<text transform="translate(600.80,3551.40) scale(1,1.03)" font-size="40" fill="#231f20" text-anchor="middle">FST</text>
<text transform="translate(598.80,3669.50) scale(1,1.03)" font-size="40" fill="#231f20" text-anchor="middle">PI</text>
<rect x="389.1" y="3155.3" width="96.9" height="53.2" fill="#45484a"/>
<rect x="121.3" y="3272.6" width="364.7" height="53.2" fill="#45484a"/>
<rect x="80.5" y="3389.9" width="405.5" height="53.2" fill="#45484a"/>
<rect x="67.4" y="3507.2" width="418.6" height="53.2" fill="#45484a"/>
<rect x="67.4" y="3624.5" width="418.6" height="53.2" fill="#45484a"/>
<path d="M49.6,3710.2 H503.4" stroke="#222222" stroke-width="3.6"/>
<path d="M53.7,3710.2 V3718.8" stroke="#454547" stroke-width="5.4"/>
<text transform="translate(65.80,3746.90) scale(1,1.01)" font-size="34.7" fill="#4d4d4d" text-anchor="middle">15,000</text>
<path d="M197.0,3710.2 V3718.8" stroke="#454547" stroke-width="5.4"/>
<text transform="translate(208.40,3746.90) scale(1,1.01)" font-size="34.7" fill="#4d4d4d" text-anchor="middle">10,000</text>
<path d="M339.9,3710.2 V3718.8" stroke="#454547" stroke-width="5.4"/>
<text transform="translate(346.70,3746.90) scale(1,1.01)" font-size="34.7" fill="#4d4d4d" text-anchor="middle">5,000</text>
<path d="M482.8,3710.2 V3718.8" stroke="#454547" stroke-width="5.4"/>
<text transform="translate(485.90,3746.90) scale(1,1.01)" font-size="34.7" fill="#4d4d4d" text-anchor="middle">0</text>
<text transform="translate(264.50,3795.40) scale(1,1.03)" font-size="39.8" fill="#231f20" text-anchor="middle">Method Set Size</text>
</g>
</svg></body></html>
